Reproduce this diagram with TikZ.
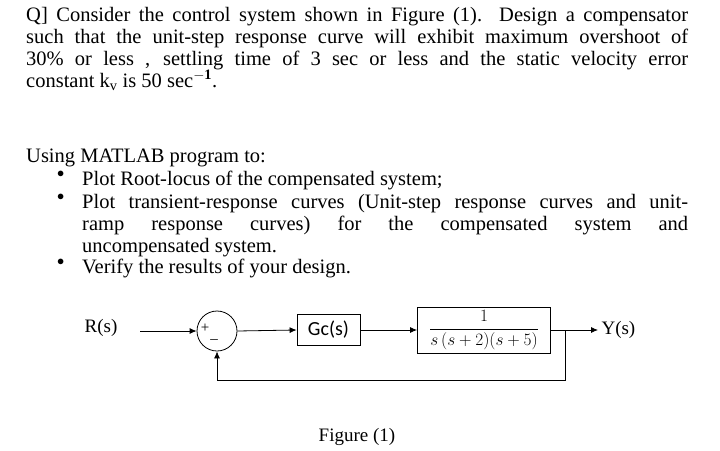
\documentclass[tikz,border=0pt]{standalone}
\usepackage{fontspec}
\setmainfont{Liberation Serif}
\newfontfamily\carl{Carlito}
\usetikzlibrary{arrows.meta}
\begin{document}
\begin{tikzpicture}[x=1pt,y=-1pt,
  blk/.style={draw,line width=0.8pt,inner sep=0pt},
  sig/.style={line width=0.8pt,-{Latex[length=7pt,width=6pt]}},
  ln/.style={line width=0.8pt},
  dfont/.style={font=\fontsize{19}{20}\selectfont},
  txt/.style={inner sep=0pt,anchor=north west,align=justify,font=\fontsize{20.5}{22}\selectfont}]
\useasboundingbox (0,0) rectangle (720,450);
\node[txt,text width=662pt] (q) at (26,7) {Q] Consider the control system shown in Figure (1). Design a compensator\linebreak such that the unit-step response curve will exhibit maximum overshoot of\linebreak 30\% or less , settling time of 3 sec or less and the static velocity error\linebreak constant k$_{\mathrm v}$ is 50 sec$^{\bf -1}$.\par};
\node[txt,anchor=north west] (u) at (26,149) {Using MATLAB program to:};
\node[txt,anchor=north west] (b1) at (57,171) {\fontsize{14}{16}\selectfont$\bullet$};
\node[txt,anchor=north west] (l1) at (82,171) {Plot Root-locus of the compensated system;};
\node[txt,anchor=north west] (b2) at (57,194) {\fontsize{14}{16}\selectfont$\bullet$};
\node[txt,text width=606pt] (l2) at (82,194) {Plot transient-response curves (Unit-step response curves and unit-\linebreak ramp response curves) for the compensated system and\linebreak uncompensated system.\par};
\node[txt,anchor=north west] (b3) at (57,259) {\fontsize{14}{16}\selectfont$\bullet$};
\node[txt,anchor=north west] (l3) at (82,259) {Verify the results of your design.};
% block diagram
\node[dfont] (r) at (101,328) {R(s)};
\coordinate (rin) at (140,331);
\node[draw,circle,line width=0.8pt,minimum size=40pt,inner sep=0pt] (sum) at (217,331) {};
\node[font=\fontsize{15}{12}\selectfont] at (205,328) {+};
\node[font=\fontsize{15}{12}\selectfont] at (214,339) {\_};
\node[blk,minimum width=63pt,minimum height=31pt,font=\carl\fontsize{20}{20}\selectfont] (gc) at (328.5,330) {Gc(s)};
\node[blk,minimum width=133pt,minimum height=46pt] (g) at (484,330) {\fontsize{18}{20}\selectfont$\displaystyle\frac{1}{s\,(s+2)(s+5)}$};
\node[dfont,anchor=west] (y) at (598,330) {Y(s)};
\coordinate (tap) at (565,330);
\coordinate (fb) at (565,380);
\coordinate (fb2) at (217,380);
\draw[sig] (rin) -- (sum.west);
\draw[sig] (sum.east) -- (gc.west);
\draw[sig] (gc.east) -- (g.west);
\draw[sig] (g.east) -- (y.west);
\draw[ln] (tap) -- (fb) -- (fb2);
\draw[sig] (fb2) -- (sum.south);
\node[dfont] (fig) at (357,437) {Figure (1)};
\end{tikzpicture}
\end{document}
